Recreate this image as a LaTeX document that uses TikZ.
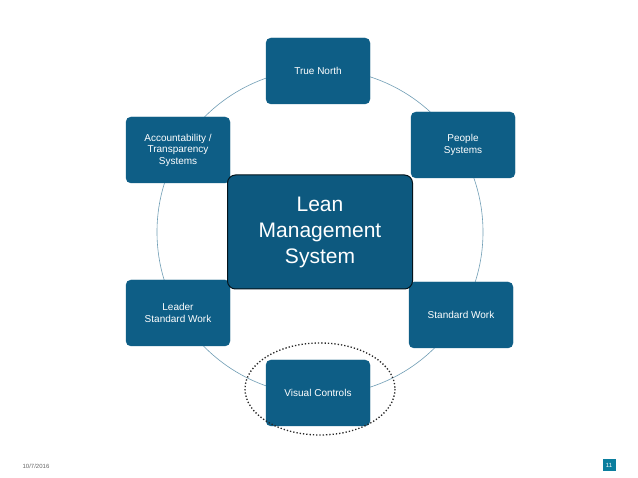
\documentclass[tikz,border=0pt]{standalone}
\usepackage{fontspec}
\setmainfont{Liberation Sans}
\definecolor{boxblue}{HTML}{0E5E86}
\definecolor{ringc}{HTML}{6F9DB5}
\begin{document}
\begin{tikzpicture}[x=1pt,y=-1pt,
  sbox/.style={draw=boxblue,fill=boxblue,rounded corners=5pt,minimum width=104pt,minimum height=66pt,text=white,font=\fontsize{10}{11.5}\selectfont,align=center,inner sep=2pt}]
\useasboundingbox (0,0) rectangle (638,478);
\fill[white] (0,0) rectangle (638,478);
\draw[ringc,line width=0.6pt] (320,232) circle[radius=163];
\node[sbox] (tn) at (318,71) {True North};
\node[sbox] (ps) at (463,145) {People\\Systems};
\node[sbox] (sw) at (461,315) {Standard Work};
\node[sbox] (vc) at (318,393) {Visual Controls};
\node[sbox] (lsw) at (178,313) {Leader\\Standard Work};
\node[sbox] (acc) at (178,150) {Accountability /\\Transparency\\Systems};
\node[draw=black!80!boxblue,line width=1pt,fill=boxblue!95!black,rounded corners=8pt,minimum width=185pt,minimum height=114pt,text=white,align=center,font=\fontsize{21}{26}\selectfont] (lms) at (320,232) {Lean\\Management\\System};
\draw[black!85,line width=1.3pt,dotted] (320,389) ellipse[x radius=75, y radius=46];
\node[text=black!60,font=\fontsize{6}{7}\selectfont] (dt) at (36,466) {10/7/2016};
\node[fill=boxblue!80!cyan,text=white,font=\fontsize{6}{7}\selectfont,minimum width=13pt,minimum height=12pt,inner sep=1pt] (pg) at (609,465) {11};
\end{tikzpicture}
\end{document}
